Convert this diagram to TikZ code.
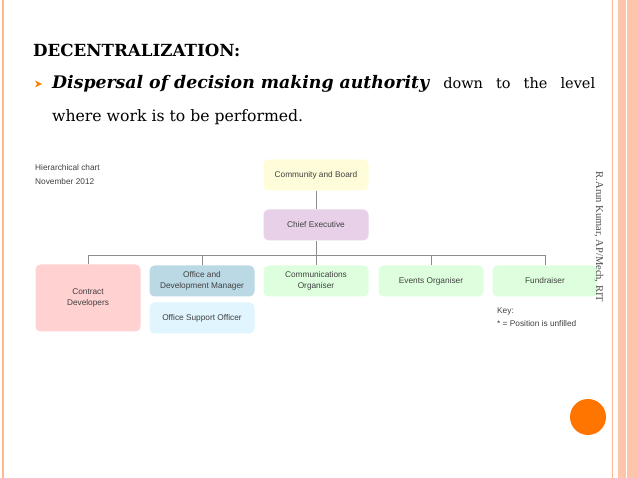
\documentclass[tikz,border=0pt]{standalone}
\usepackage{fontspec}
\setmainfont{DejaVu Serif}
\newfontfamily\chartfont{Liberation Sans}
\newfontfamily\sidefont{Liberation Serif}
\begin{document}
\begin{tikzpicture}[x=1pt,y=-1pt,
  box/.style={rounded corners=5pt,minimum width=105pt,minimum height=31pt,align=center,font=\chartfont\fontsize{8.3}{11}\selectfont,text=black!75,inner sep=1pt},
  link/.style={draw=black!45,line width=0.7pt},
  lbl/.style={font=\chartfont\fontsize{8.3}{10}\selectfont,text=black!75,anchor=west,inner sep=0pt}]
\useasboundingbox (0,0) rectangle (638,478);
\fill[white] (0,0) rectangle (638,478);
\draw[color=orange!40!pink!80,line width=1.5pt] (3,0) -- (3,478);
\draw[color=orange!40!pink!80,line width=0.8pt] (612,0) -- (612,478);
\fill[orange!30!pink!70] (618,0) rectangle (638,478);
\draw[white,line width=1pt] (626,0) -- (626,478);
\fill[orange!80!red!90!yellow] (588,417) circle (18);
\node[anchor=west,font=\bfseries\fontsize{13}{16}\selectfont,inner sep=0pt] (title) at (33,50) {\resizebox{207pt}{!}{DECENTRALIZATION:}};
\coordinate (bul) at (38,84);
\fill[orange] (35,80.5) -- (42,84) -- (35,87.5) -- (37,84) -- cycle;
\node[anchor=west,font=\fontsize{14.5}{18}\selectfont,inner sep=0pt] (l1) at (52,84) {\makebox[543pt][s]{\resizebox{378pt}{!}{\textbf{\textit{Dispersal of decision making authority}}}\ down\ to\ the\ level}};
\node[anchor=west,font=\fontsize{15.5}{18}\selectfont,inner sep=0pt] (l2) at (52,117) {\resizebox{251pt}{!}{where work is to be performed.}};
\node[lbl] (h1) at (35,168) {Hierarchical chart};
\node[lbl] (h2) at (35,182) {November 2012};
\node[box,fill=yellow!15] (cb) at (316,175) {Community and Board};
\node[box,fill=violet!18] (ce) at (316,225) {Chief Executive};
\node[box,fill=red!18,minimum height=67pt] (cd) at (88,298) {Contract\\Developers};
\node[box,fill=cyan!30!teal!30] (od) at (202,281) {Office and\\Development Manager};
\node[box,fill=cyan!12] (os) at (202,318) {Office Support Officer};
\node[box,fill=green!13] (co) at (316,281) {Communications\\Organiser};
\node[box,fill=green!13] (ev) at (431,281) {Events Organiser};
\node[box,fill=green!13] (fr) at (545,281) {Fundraiser};
\node[lbl] (k1) at (497,312) {Key:};
\node[lbl] (k2) at (497,324) {* = Position is unfilled};
\coordinate (bar) at (316,255);
\draw[link] (cb) -- (ce);
\draw[link] (ce) -- (bar);
\draw[link] (cd.north) |- (bar) -| (fr.north);
\draw[link] (od.north) |- (bar);
\draw[link] (co.north) -- (bar);
\draw[link] (ev.north) |- (bar);
\node[rotate=-90,font=\sidefont\fontsize{10.5}{12}\selectfont,text=black!70,inner sep=0pt] (auth) at (599,237) {R.Arun Kumar, AP/Mech, RIT};
\end{tikzpicture}
\end{document}
